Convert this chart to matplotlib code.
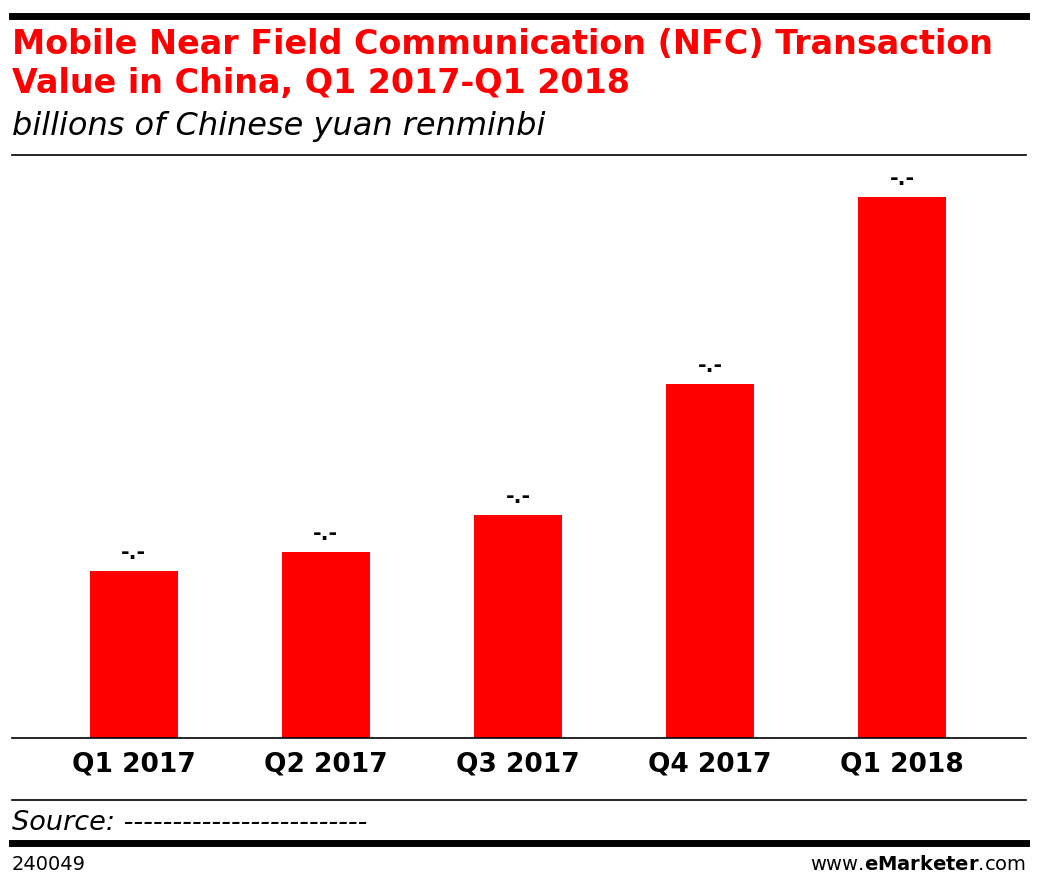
import matplotlib.pyplot as plt
from matplotlib.lines import Line2D

quarters = ["Q1 2017", "Q2 2017", "Q3 2017", "Q4 2017", "Q1 2018"]
values = [167, 186, 223, 354, 541]
labels = ["-.-", "-.-", "-.-", "-.-", "-.-"]

fig = plt.figure(figsize=(10.38, 8.93), dpi=100)
ax = fig.add_axes([12/1038, 1-738/893, 1014/1038, 583/893])

x = range(len(quarters))
ax.bar(x, values, width=0.46, color="#ff0000")
for xi, v, lab in zip(x, values, labels):
    ax.text(xi, v + 8, lab, ha="center", va="bottom", fontsize=15, fontweight="bold")

ax.set_xlim(-0.635, 4.646)
ax.set_ylim(0, 583)
ax.set_yticks([])
ax.set_xticks(list(x))
ax.set_xticklabels(quarters, fontsize=19, fontweight="bold")
ax.tick_params(axis="x", length=0, pad=10)
for s in ["top", "left", "right"]:
    ax.spines[s].set_visible(False)
ax.spines["bottom"].set_linewidth(1.2)

def hline(y, lw):
    fig.add_artist(Line2D([12/1038, 1026/1038], [1-y/893, 1-y/893], color="black", lw=lw))

hline(16, 5)
hline(155, 1.2)
hline(800, 1.2)
hline(843, 5)

fig.text(12/1038, 1-45/893, "Mobile Near Field Communication (NFC) Transaction",
         color="#ff0000", fontsize=24, fontweight="bold", va="center")
fig.text(12/1038, 1-83/893, "Value in China, Q1 2017-Q1 2018",
         color="#ff0000", fontsize=24, fontweight="bold", va="center")
fig.text(12/1038, 1-126/893, "billions of Chinese yuan renminbi",
         fontsize=23, style="italic", va="center")
fig.text(12/1038, 1-823/893, "Source: -------------------------",
         fontsize=19.5, style="italic", va="center")
fig.text(12/1038, 1-864/893, "240049", fontsize=14, va="center")
fig.text(1026/1038, 1-864/893, "www.$\\bf{eMarketer}$.com", fontsize=14,
         va="center", ha="right")

fig.savefig("out.png", dpi=100)
